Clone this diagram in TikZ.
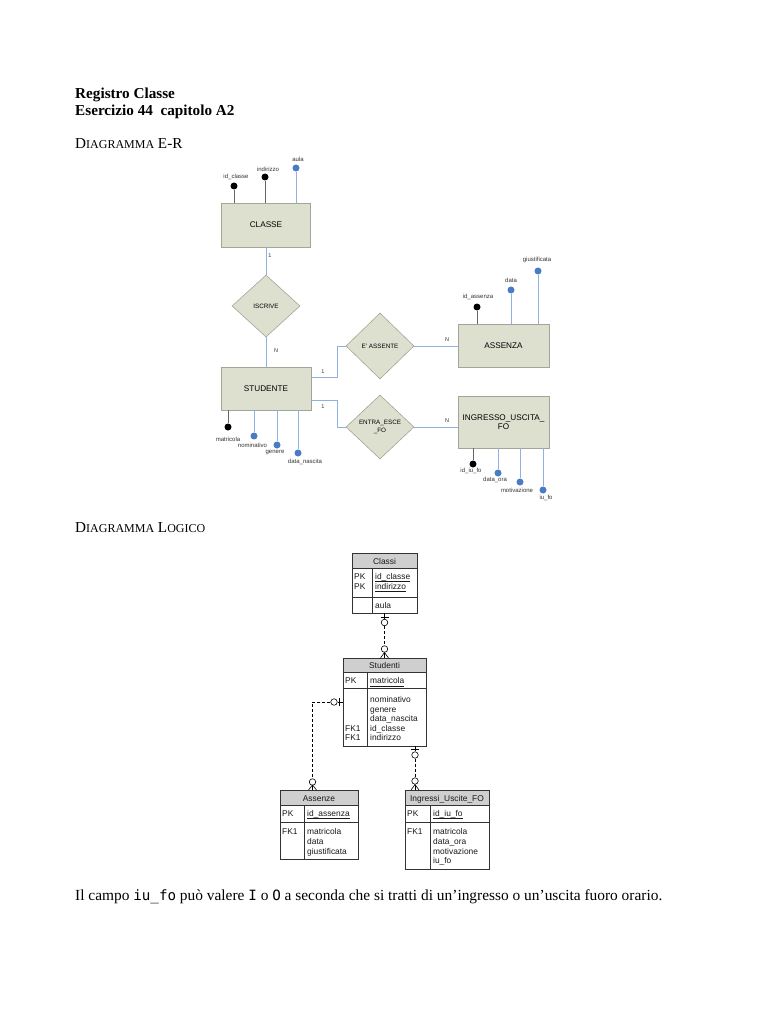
\documentclass[tikz,border=0pt]{standalone}
\usepackage{fontspec}
\setmainfont{Liberation Serif}
\setsansfont{Liberation Sans}
\setmonofont{DejaVu Sans Mono}
\usetikzlibrary{shapes.geometric}
\definecolor{entfill}{HTML}{DDE0CF}
\definecolor{entdraw}{HTML}{A3A596}
\definecolor{attblue}{HTML}{4A7CC6}
\definecolor{linkblue}{HTML}{8FB0E0}
\definecolor{hdrgrey}{HTML}{CFCFCF}
\newcommand\smcap[1]{{\fontsize{12}{12}\selectfont #1}}
\newcommand\ulin[1]{\underline{\smash{#1}\rule[-1.2pt]{0pt}{1pt}}}
\begin{document}
\begin{tikzpicture}[x=1pt,y=-1pt,
  ent/.style={draw=entdraw, fill=entfill, line width=0.6pt, font=\fontsize{8.2}{9.5}\selectfont\sffamily, align=center, inner sep=0pt},
  rel/.style={diamond, draw=entdraw, fill=entfill, line width=0.6pt, font=\fontsize{6.3}{7.5}\selectfont\sffamily, align=center, inner sep=0pt},
  kdot/.style={circle, fill=black, inner sep=0pt, minimum size=7pt},
  bdot/.style={circle, fill=attblue, inner sep=0pt, minimum size=7pt},
  klink/.style={draw=black!60, line width=0.8pt},
  blink/.style={draw=linkblue, line width=0.8pt},
  alab/.style={font=\fontsize{6}{6.5}\selectfont\sffamily, text=black!80, inner sep=0pt},
  card/.style={font=\fontsize{5.5}{6}\selectfont\sffamily, text=black!80, inner sep=0pt},
  tbl/.style={draw=black!80, line width=0.5pt, inner sep=0pt, outer sep=0pt},
  ttxt/.style={font=\fontsize{8.4}{9.5}\selectfont\sffamily, text=black!90, inner sep=0pt, anchor=base west},
  thd/.style={font=\fontsize{8.4}{9.5}\selectfont\sffamily, text=black!90, inner sep=0pt, anchor=base},
  ocirc/.style={circle, draw=black, line width=0.6pt, fill=white, inner sep=0pt, minimum size=6.5pt},
  rl/.style={draw=black, line width=0.6pt},
  dl/.style={draw=black, line width=0.7pt, dash pattern=on 3pt off 2pt}
]
\useasboundingbox[fill=white] (0,0) rectangle (768,1024);

% titles
\node[anchor=base west, inner sep=0pt, font=\fontsize{15.2}{18}\selectfont\bfseries] (t1) at (75,99) {Registro Classe};
\node[anchor=base west, inner sep=0pt, font=\fontsize{15.2}{18}\selectfont\bfseries] (t2) at (75,116) {Esercizio 44\ \ capitolo A2};
\node[anchor=base west, inner sep=0pt, font=\fontsize{15.2}{18}\selectfont] (t3) at (75,149) {D\smcap{IAGRAMMA} E-R};
\node[anchor=base west, inner sep=0pt, font=\fontsize{15.2}{18}\selectfont] (t4) at (75,532) {D\smcap{IAGRAMMA} L\smcap{OGICO}};

% ===== E-R diagram =====
\node[ent, minimum width=89pt, minimum height=44pt] (classe) at (266,225) {CLASSE};
\node[rel, minimum width=68pt, minimum height=62pt] (iscrive) at (266,306) {ISCRIVE};
\node[ent, minimum width=90pt, minimum height=43pt] (stud) at (266,388.5) {STUDENTE};
\node[rel, minimum width=68pt, minimum height=66pt] (ea) at (380,346) {E' ASSENTE};
\node[rel, minimum width=68pt, minimum height=64pt] (ee) at (380,427) {ENTRA\_ESCE\\\_FO};
\node[ent, minimum width=91pt, minimum height=43pt] (ass) at (503.5,345.5) {ASSENZA};
\node[ent, minimum width=91pt, minimum height=52pt] (ing) at (503.5,422) {INGRESSO\_USCITA\_\\FO};

% relationships
\draw[blink] (classe.south) -- (iscrive.north);
\draw[blink] (iscrive.south) -- (stud.north);
\draw[blink] ([yshift=11.5pt]stud.east) -- ++(26,0) |- (ea.west);
\draw[blink] ([yshift=-11.5pt]stud.east) -- ++(26,0) |- (ee.west);
\draw[blink] (ea.east) -- (ass.west |- ea.east);
\draw[blink] (ee.east) -- (ing.west |- ee.east);
\node[card] (c1) at (270,256) {1};
\node[card] (c2) at (276,351) {N};
\node[card] (c3) at (323,372) {1};
\node[card] (c4) at (323,407) {1};
\node[card] (c5) at (447,340) {N};
\node[card] (c6) at (447,421) {N};

% CLASSE attributes
\node[kdot] (aidc) at (234,186) {};
\node[kdot] (aind) at (265,177) {};
\node[bdot] (aaul) at (296,168) {};
\draw[klink] (aidc) -- (aidc |- classe.north);
\draw[klink] (aind) -- (aind |- classe.north);
\draw[blink] (aaul) -- (aaul |- classe.north);
\node[alab] (lidc) at (236,177) {id\_classe};
\node[alab] (lind) at (268,169) {indirizzo};
\node[alab] (laul) at (298,159) {aula};

% STUDENTE attributes
\node[kdot] (amat) at (228,427) {};
\node[bdot] (anom) at (254,436) {};
\node[bdot] (agen) at (277,445) {};
\node[bdot] (adat) at (298,453) {};
\draw[klink] (amat) -- (amat |- stud.south);
\draw[blink] (anom) -- (anom |- stud.south);
\draw[blink] (agen) -- (agen |- stud.south);
\draw[blink] (adat) -- (adat |- stud.south);
\node[alab] (lmat) at (228,439) {matricola};
\node[alab] (lnom) at (252.5,445) {nominativo};
\node[alab] (lgen) at (275,453) {genere};
\node[alab] (ldat) at (305,462) {data\_nascita};

% ASSENZA attributes
\node[kdot] (aida) at (477,307) {};
\node[bdot] (adta) at (511,290) {};
\node[bdot] (agiu) at (538,271) {};
\draw[klink] (aida) -- (aida |- ass.north);
\draw[blink] (adta) -- (adta |- ass.north);
\draw[blink] (agiu) -- (agiu |- ass.north);
\node[alab] (lida) at (478,297) {id\_assenza};
\node[alab] (ldta) at (511,280) {data};
\node[alab] (lgiu) at (537,260) {giustificata};

% INGRESSO attributes
\node[kdot] (aiif) at (473,464) {};
\node[bdot] (adto) at (498,473) {};
\node[bdot] (amot) at (520,482) {};
\node[bdot] (aiuf) at (543,490) {};
\draw[klink] (aiif) -- (aiif |- ing.south);
\draw[blink] (adto) -- (adto |- ing.south);
\draw[blink] (amot) -- (amot |- ing.south);
\draw[blink] (aiuf) -- (aiuf |- ing.south);
\node[alab] (liif) at (471,471) {id\_iu\_fo};
\node[alab] (ldto) at (495,479.5) {data\_ora};
\node[alab] (lmot) at (517,490) {motivazione};
\node[alab] (liuf) at (546,497.5) {iu\_fo};

% ===== Logical diagram =====
% Classi
\node[tbl, minimum width=65pt, minimum height=60pt, anchor=north west] (classi) at (352,553) {};
\filldraw[fill=hdrgrey, draw=black!80, line width=0.5pt] (352,553) rectangle (417,568);
\draw[black!80, line width=0.5pt] (352,597) -- (417,597) (372,568) -- (372,613);
\node[thd] (hcl) at (384.5,564) {Classi};
\node[ttxt] (k1) at (354,579) {PK};
\node[ttxt] (k2) at (354,589) {PK};
\node[ttxt] (f1) at (375,579) {\ulin{id\_classe}};
\node[ttxt] (f2) at (375,589) {\ulin{indirizzo}};
\node[ttxt] (f3) at (375,608) {aula};

% Studenti
\node[tbl, minimum width=83pt, minimum height=88pt, anchor=north west] (studenti) at (343,658) {};
\filldraw[fill=hdrgrey, draw=black!80, line width=0.5pt] (343,658) rectangle (426,672.5);
\draw[black!80, line width=0.5pt] (343,688) -- (426,688) (367,672.5) -- (367,746);
\node[thd] (hst) at (384.5,668.5) {Studenti};
\node[ttxt] (s1) at (345,683.5) {PK};
\node[ttxt] (s2) at (370,683.5) {\ulin{matricola}};
\node[ttxt] (s3) at (370,702.5) {nominativo};
\node[ttxt] (s4) at (370,712) {genere};
\node[ttxt] (s5) at (370,721.5) {data\_nascita};
\node[ttxt] (s6) at (370,731) {id\_classe};
\node[ttxt] (s7) at (370,740.5) {indirizzo};
\node[ttxt] (s8) at (345,731) {FK1};
\node[ttxt] (s9) at (345,740.5) {FK1};

% Assenze
\node[tbl, minimum width=78pt, minimum height=69pt, anchor=north west] (assenze) at (280,790) {};
\filldraw[fill=hdrgrey, draw=black!80, line width=0.5pt] (280,790) rectangle (358,805);
\draw[black!80, line width=0.5pt] (280,822) -- (358,822) (304,805) -- (304,859);
\node[thd] (has) at (319,801) {Assenze};
\node[ttxt] (b1) at (282,816) {PK};
\node[ttxt] (b2) at (307,816) {\ulin{id\_assenza}};
\node[ttxt] (b3) at (282,834) {FK1};
\node[ttxt] (b4) at (307,834) {matricola};
\node[ttxt] (b5) at (307,844) {data};
\node[ttxt] (b6) at (307,854) {giustificata};

% Ingressi_Uscite_FO
\node[tbl, minimum width=84pt, minimum height=79pt, anchor=north west] (ingressi) at (405,790) {};
\filldraw[fill=hdrgrey, draw=black!80, line width=0.5pt] (405,790) rectangle (489,805.5);
\draw[black!80, line width=0.5pt] (405,822) -- (489,822) (430,805.5) -- (430,869);
\node[thd] (hin) at (447,801) {Ingressi\_Uscite\_FO};
\node[ttxt] (g1) at (407,816) {PK};
\node[ttxt] (g2) at (433,816) {\ulin{id\_iu\_fo}};
\node[ttxt] (g3) at (407,834) {FK1};
\node[ttxt] (g4) at (433,834) {matricola};
\node[ttxt] (g5) at (433,844) {data\_ora};
\node[ttxt] (g6) at (433,854) {motivazione};
\node[ttxt] (g7) at (433,863.5) {iu\_fo};

% Connector Classi -> Studenti
\node[ocirc] (o1) at (384.5,622.5) {};
\node[ocirc] (o2) at (384.5,649) {};
\draw[rl] (classi.south) -- (o1.north);
\draw[rl] (380.5,617) -- (388.5,617);
\draw[dl] (o1.south) -- (o2.north);
\draw[rl] (o2.south) -- (studenti.north);
\draw[rl] (380.5,658) -- (384.5,652.5) -- (388.5,658);

% Connector Studenti -> Assenze
\node[ocirc] (o3) at (334,702) {};
\coordinate (bend1) at (312.5,702);
\node[ocirc] (o4) at (312.5,782) {};
\draw[rl] (o3.east) -- (studenti.west |- o3.east);
\draw[rl] (339,698) -- (339,706);
\draw[dl] (o3.west) -- (bend1) -- (o4.north);
\draw[rl] (o4.south) -- (o4.south |- assenze.north);
\draw[rl] (308.5,790) -- (312.5,785) -- (316.5,790);

% Connector Studenti -> Ingressi
\node[ocirc] (o5) at (415,755) {};
\node[ocirc] (o6) at (415,781) {};
\draw[rl] (o5.north) -- (o5.north |- studenti.south);
\draw[rl] (411,749.5) -- (419,749.5);
\draw[dl] (o5.south) -- (o6.north);
\draw[rl] (o6.south) -- (o6.south |- ingressi.north);
\draw[rl] (411,790) -- (415,784.5) -- (419,790);

% bottom note
\node[anchor=base west, inner sep=0pt, font=\fontsize{15.4}{18}\selectfont] (note) at (75,900) {Il campo {\fontsize{14.2}{18}\selectfont\ttfamily iu\_fo} può valere {\fontsize{14.2}{18}\selectfont\ttfamily I} o {\fontsize{14.2}{18}\selectfont\ttfamily O} a seconda che si tratti di un’ingresso o un’uscita fuoro orario.};
\end{tikzpicture}
\end{document}
